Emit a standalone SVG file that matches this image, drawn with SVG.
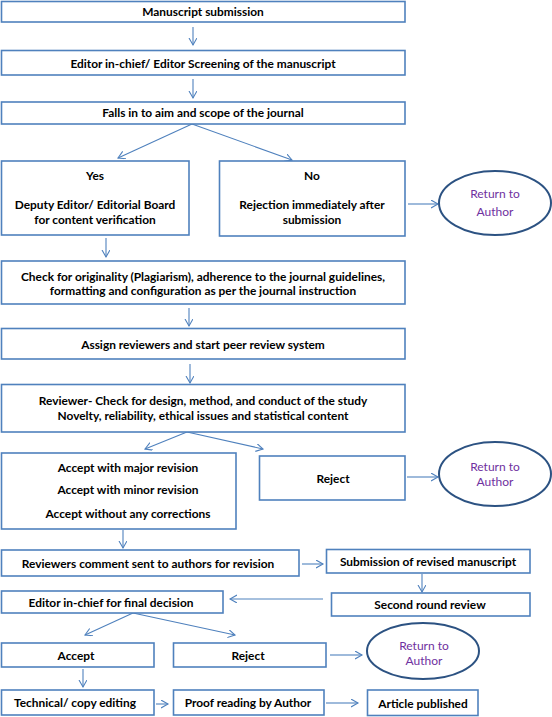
<svg xmlns="http://www.w3.org/2000/svg" width="552" height="717" viewBox="0 0 552 717">
<defs>
<marker id="ah" markerWidth="10" markerHeight="10" refX="7" refY="4" orient="auto" markerUnits="userSpaceOnUse">
<path d="M0,0 L7,4 L0,8" fill="none" stroke="#4f81bd" stroke-width="1.1"/>
</marker>
<style>
.b{fill:#fff;stroke:#4f81bd;stroke-width:1.6}
.e{fill:#fff;stroke:#2c5282;stroke-width:2}
.t{font-family:Lato,"Liberation Sans",sans-serif;font-weight:bold;font-size:11.9px;fill:#000;text-anchor:middle}
.p{font-family:Lato,"Liberation Sans",sans-serif;font-size:12px;fill:#7030a0;text-anchor:middle}
.c line{stroke:#4f81bd;stroke-width:1.1;marker-end:url(#ah)}
</style>
</defs>
<rect width="552" height="717" fill="#fff"/>
<g class="c" id="connectors">
<line x1="193" y1="27" x2="193" y2="45"/>
<line x1="193" y1="79" x2="193" y2="98"/>
<line x1="192" y1="124" x2="118" y2="158"/>
<line x1="192" y1="124" x2="292" y2="160"/>
<line x1="408" y1="204" x2="438" y2="204"/>
<line x1="106" y1="238" x2="106" y2="257"/>
<line x1="189" y1="308" x2="189" y2="326"/>
<line x1="190" y1="364" x2="190" y2="383"/>
<line x1="187" y1="432" x2="145" y2="449"/>
<line x1="187" y1="432" x2="263" y2="449"/>
<line x1="407" y1="477" x2="438" y2="477"/>
<line x1="123" y1="530" x2="123" y2="548"/>
<line x1="302" y1="564" x2="323" y2="564"/>
<line x1="422" y1="574" x2="422" y2="592"/>
<line x1="323" y1="599" x2="230" y2="599"/>
<line x1="133" y1="613" x2="85" y2="635"/>
<line x1="133" y1="613" x2="235" y2="635"/>
<line x1="330" y1="655" x2="362" y2="655"/>
<line x1="83" y1="669" x2="83" y2="687"/>
<line x1="156" y1="704" x2="168" y2="704"/>
<line x1="326" y1="703" x2="358" y2="703"/>
</g>
<g id="n1"><rect class="b" x="1.5" y="1.5" width="403.5" height="20.5"/><text class="t" x="203" y="15.5">Manuscript submission</text></g>
<g id="n2"><rect class="b" x="1.5" y="50.5" width="403.5" height="24.5"/><text class="t" x="203" y="67.5">Editor in-chief/ Editor Screening of the manuscript</text></g>
<g id="n3"><rect class="b" x="1.5" y="102" width="403.5" height="22"/><text class="t" x="203" y="116.5">Falls in to aim and scope of the journal</text></g>
<g id="n4"><rect class="b" x="1.5" y="161" width="187.5" height="74"/><text class="t" x="95" y="179.5">Yes</text><text class="t" x="95" y="208.5">Deputy Editor/ Editorial Board</text><text class="t" x="95" y="223.5">for content verification</text></g>
<g id="n5"><rect class="b" x="219.5" y="161" width="185.5" height="75"/><text class="t" x="312" y="179.5">No</text><text class="t" x="312" y="208.5">Rejection immediately after</text><text class="t" x="312" y="223.5">submission</text></g>
<g id="n6"><ellipse class="e" cx="495" cy="203" rx="56" ry="32"/><text class="p" x="495" y="198">Return to</text><text class="p" x="495" y="216">Author</text></g>
<g id="n7"><rect class="b" x="1.5" y="261" width="403.5" height="43"/><text class="t" x="203" y="280.5">Check for originality (Plagiarism), adherence to the journal guidelines,</text><text class="t" x="203" y="294.5">formatting and configuration as per the journal instruction</text></g>
<g id="n8"><rect class="b" x="1.5" y="328.5" width="403.5" height="30.5"/><text class="t" x="203" y="348.5">Assign reviewers and start peer review system</text></g>
<g id="n9"><rect class="b" x="1.5" y="384.5" width="403.5" height="47.5"/><text class="t" x="203" y="404.5">Reviewer- Check for design, method, and conduct of the study</text><text class="t" x="203" y="419.5">Novelty, reliability, ethical issues and statistical content</text></g>
<g id="n10"><rect class="b" x="1.5" y="453" width="234.5" height="76"/><text class="t" x="128" y="471.5">Accept with major revision</text><text class="t" x="128" y="493.5">Accept with minor revision</text><text class="t" x="128" y="517.5">Accept without any corrections</text></g>
<g id="n11"><rect class="b" x="259.5" y="456" width="145.5" height="44"/><text class="t" x="333" y="482.5">Reject</text></g>
<g id="n12"><ellipse class="e" cx="495" cy="474" rx="56" ry="32"/><text class="p" x="495" y="471">Return to</text><text class="p" x="495" y="486">Author</text></g>
<g id="n13"><rect class="b" x="1.5" y="550" width="297.5" height="26"/><text class="t" x="148" y="567.5">Reviewers comment sent to authors for revision</text></g>
<g id="n14"><rect class="b" x="326.5" y="549.5" width="203.5" height="23.5"/><text class="t" x="428" y="565.5">Submission of revised manuscript</text></g>
<g id="n15"><rect class="b" x="331.5" y="593" width="198.5" height="23"/><text class="t" x="430" y="608.5">Second round review</text></g>
<g id="n16"><rect class="b" x="1.5" y="591" width="221.5" height="22"/><text class="t" x="111" y="606.5">Editor in-chief for final decision</text></g>
<g id="n17"><rect class="b" x="1.5" y="643" width="152.5" height="24"/><text class="t" x="76" y="659.5">Accept</text></g>
<g id="n18"><rect class="b" x="173.5" y="643" width="152.5" height="24"/><text class="t" x="248" y="659.5">Reject</text></g>
<g id="n19"><ellipse class="e" cx="423" cy="651" rx="56" ry="28"/><text class="p" x="424" y="650">Return to</text><text class="p" x="424" y="665">Author</text></g>
<g id="n20"><rect class="b" x="1.5" y="690" width="152.5" height="25"/><text class="t" x="75" y="706.5">Technical/ copy editing</text></g>
<g id="n21"><rect class="b" x="173.5" y="690" width="150.5" height="25"/><text class="t" x="248" y="706.5">Proof reading by Author</text></g>
<g id="n22"><rect class="b" x="367.5" y="690" width="110.5" height="25.5"/><text class="t" x="423" y="707.5">Article published</text></g>
</svg>
